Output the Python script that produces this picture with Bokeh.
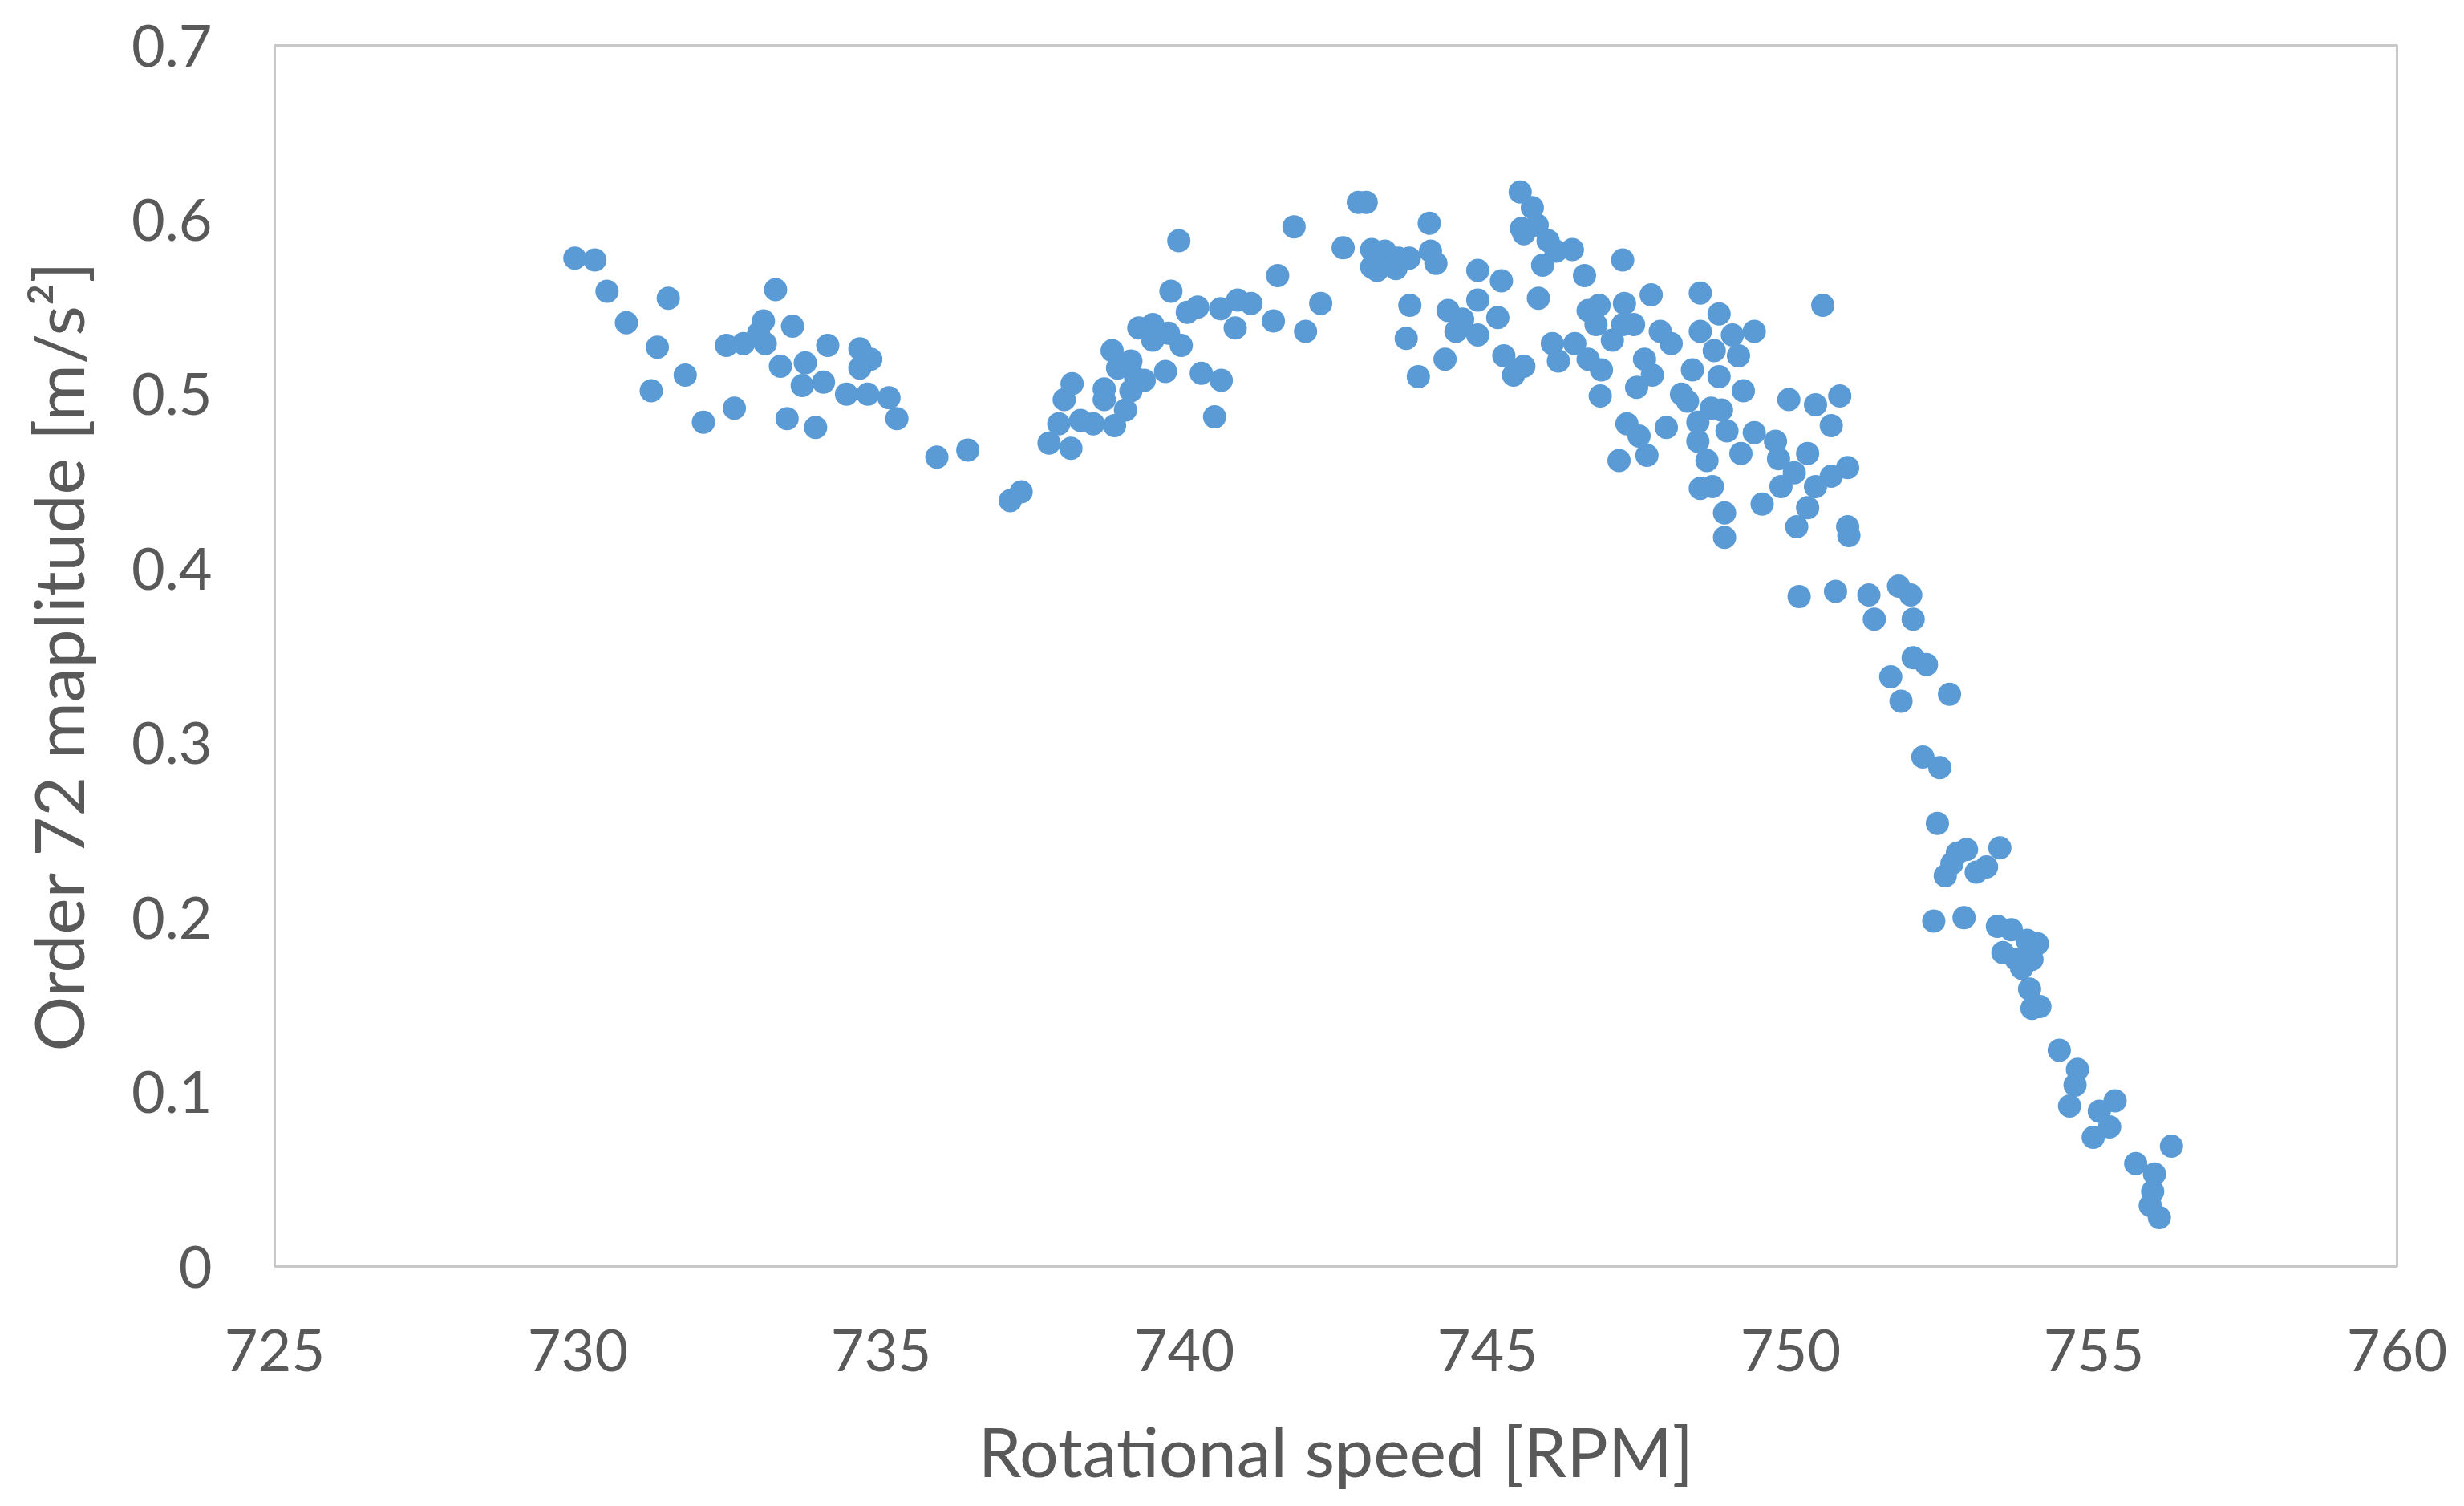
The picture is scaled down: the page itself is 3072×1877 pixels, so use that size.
from bokeh.plotting import figure
from bokeh.models import FixedTicker, CustomJSTickFormatter, Range1d, ColumnDataSource
from bokeh.embed import file_html
from bokeh.resources import INLINE

rpm = [
    729.95, 730.28, 730.48, 730.80, 731.31, 731.49, 731.77, 731.21, 732.07, 732.58,
    732.45, 732.73, 732.98, 733.06, 733.09, 733.26, 733.54, 733.34, 733.75, 733.70,
    734.05, 734.12, 733.45, 733.92, 734.65, 734.83, 734.65, 734.43, 734.78, 735.13,
    735.26, 735.92, 736.43, 737.13, 737.31,
    737.77, 738.13, 737.93, 738.29, 738.50, 738.02, 738.15, 738.68, 738.68, 738.81,
    738.90, 739.12, 739.20, 739.34, 739.12, 739.03, 738.85, 739.25, 739.48, 739.74,
    739.48, 739.95, 739.69, 739.78, 739.91, 740.05, 740.22, 740.28, 740.61, 740.50,
    740.60, 740.88, 741.10, 740.84, 741.54, 741.47, 741.81, 742.00, 742.25, 742.62,
    742.87, 743.00, 744.04, 743.09, 743.31, 743.53, 743.09, 743.71, 743.49, 743.18,
    744.06, 744.15, 744.84, 745.23, 745.54, 745.74, 745.56, 745.82, 745.60, 746.00,
    746.13, 746.40, 745.91, 746.60, 747.23, 743.72, 743.66, 743.86, 744.30, 744.35,
    744.84, 744.59, 744.48, 744.84, 745.17, 745.84, 745.27, 745.60, 745.43, 746.07,
    746.17, 746.44, 746.66, 746.88, 746.86, 746.66, 746.84, 746.79, 747.26, 747.06,
    747.23, 747.41, 747.70, 747.85, 748.03, 747.59, 747.72, 747.46, 747.30, 747.50,
    747.63, 747.17, 747.95,
    748.51, 748.82, 748.51, 749.04, 749.40, 748.74, 749.14, 748.38, 748.82, 749.22,
    748.20, 748.30, 748.69, 748.86, 748.47, 748.95, 749.40, 748.47, 748.62, 749.18,
    749.75, 749.80, 750.06, 750.28, 749.97, 750.41, 750.81, 750.67, 750.53, 750.94,
    750.67, 750.41, 749.84, 749.53, 750.28, 750.10, 750.94, 750.96, 748.51, 748.71,
    748.91, 748.91, 750.14, 750.74,
    751.29, 751.38, 751.78, 751.98, 752.02, 752.02, 752.24, 751.65, 751.82, 752.62,
    752.18, 752.46, 752.42, 752.75, 752.90, 752.55, 753.06, 753.23, 753.45, 752.66,
    752.36, 752.86, 753.41, 753.64, 753.90, 754.07, 753.50, 753.72, 753.98, 753.81,
    753.94, 753.98, 754.11, 754.43, 754.73, 754.69, 754.60, 755.35, 755.09, 755.26,
    754.99, 756.28, 755.69, 756.00, 755.97, 755.93, 756.08,
]

amplitude = [
    0.578, 0.577, 0.559, 0.541, 0.527, 0.555, 0.511, 0.502, 0.484, 0.492,
    0.528, 0.529, 0.535, 0.542, 0.529, 0.560, 0.539, 0.516, 0.518, 0.505,
    0.507, 0.528, 0.486, 0.481, 0.526, 0.520, 0.515, 0.500, 0.500, 0.498,
    0.486, 0.464, 0.468, 0.439, 0.444,
    0.472, 0.469, 0.483, 0.485, 0.483, 0.497, 0.506, 0.503, 0.497, 0.525,
    0.515, 0.519, 0.509, 0.508, 0.502, 0.491, 0.482, 0.538, 0.540, 0.535,
    0.531, 0.528, 0.513, 0.559, 0.588, 0.547, 0.550, 0.512, 0.508, 0.487,
    0.549, 0.554, 0.552, 0.538, 0.568, 0.542, 0.596, 0.536, 0.552, 0.584,
    0.610, 0.610, 0.598, 0.583, 0.582, 0.578, 0.573, 0.578, 0.572, 0.571,
    0.582, 0.575, 0.571, 0.565, 0.616, 0.607, 0.595, 0.597, 0.592, 0.588,
    0.582, 0.583, 0.574, 0.568, 0.577, 0.551, 0.532, 0.510, 0.520, 0.548,
    0.554, 0.543, 0.536, 0.534, 0.544, 0.555, 0.522, 0.516, 0.511, 0.529,
    0.519, 0.529, 0.520, 0.514, 0.499, 0.548, 0.551, 0.540, 0.552, 0.531,
    0.540, 0.540, 0.557, 0.536, 0.529, 0.520, 0.511, 0.504, 0.483, 0.476,
    0.465, 0.462, 0.481,
    0.558, 0.546, 0.536, 0.534, 0.536, 0.525, 0.522, 0.514, 0.510, 0.502,
    0.500, 0.496, 0.492, 0.491, 0.484, 0.479, 0.478, 0.473, 0.462, 0.466,
    0.473, 0.463, 0.455, 0.466, 0.497, 0.494, 0.499, 0.482, 0.551, 0.458,
    0.453, 0.447, 0.447, 0.437, 0.435, 0.424, 0.424, 0.419, 0.446, 0.447,
    0.432, 0.418, 0.384, 0.387,
    0.385, 0.371, 0.390, 0.385, 0.371, 0.349, 0.345, 0.338, 0.324, 0.328,
    0.292, 0.286, 0.254, 0.237, 0.239, 0.224, 0.226, 0.229, 0.240, 0.231,
    0.198, 0.200, 0.195, 0.193, 0.187, 0.185, 0.180, 0.176, 0.176, 0.171,
    0.159, 0.148, 0.149, 0.124, 0.113, 0.104, 0.092, 0.095, 0.089, 0.080,
    0.074, 0.069, 0.059, 0.053, 0.043, 0.035, 0.028,
]

x_ticks = [725, 730, 735, 740, 745, 750, 755, 760]
y_ticks = [0, 0.1, 0.2, 0.3, 0.4, 0.5, 0.6, 0.7]

x_title = "Rotational speed [RPM]"
y_title = "Order 72 maplitude [m/s\u00b2]"

FONT = "Lato"
TEXT_COLOR = "#595959"

source = ColumnDataSource(data=dict(rpm=rpm, amplitude=amplitude))

p = figure(
    width=3056, height=1861,
    output_backend="svg", toolbar_location=None, tools="",
    x_range=Range1d(725, 760), y_range=Range1d(0, 0.7),
    min_border_left=342, min_border_right=68,
    min_border_top=56, min_border_bottom=279,
)
p.background_fill_color = "white"
p.border_fill_color = "white"
p.outline_line_color = "#C8C8C8"
p.outline_line_width = 3
p.xgrid.visible = False
p.ygrid.visible = False

p.scatter("rpm", "amplitude", source=source, size=29,
          fill_color="#5B9BD5", line_color="#5B9BD5", line_width=0)

for ax in (p.xaxis[0], p.yaxis[0]):
    ax.axis_line_color = None
    ax.major_tick_line_color = None
    ax.minor_tick_line_color = None
    ax.major_tick_out = 0
    ax.major_tick_in = 0
    ax.minor_tick_out = 0
    ax.major_label_text_font = FONT
    ax.major_label_text_font_size = "72px"
    ax.major_label_text_color = TEXT_COLOR
    ax.axis_label_text_font = FONT
    ax.axis_label_text_font_size = "86px"
    ax.axis_label_text_font_style = "normal"
    ax.axis_label_text_color = TEXT_COLOR

p.xaxis[0].ticker = FixedTicker(ticks=x_ticks)
p.yaxis[0].ticker = FixedTicker(ticks=y_ticks)
p.yaxis[0].formatter = CustomJSTickFormatter(
    code="return Math.abs(tick) < 1e-9 ? '0' : tick.toFixed(1);")
p.xaxis[0].major_label_standoff = 78
p.yaxis[0].major_label_standoff = 78
p.xaxis[0].axis_label = x_title
p.yaxis[0].axis_label = y_title
p.xaxis[0].axis_label_standoff = 44
p.yaxis[0].axis_label_standoff = 38

open("out.html", "w").write(file_html(p, INLINE))
